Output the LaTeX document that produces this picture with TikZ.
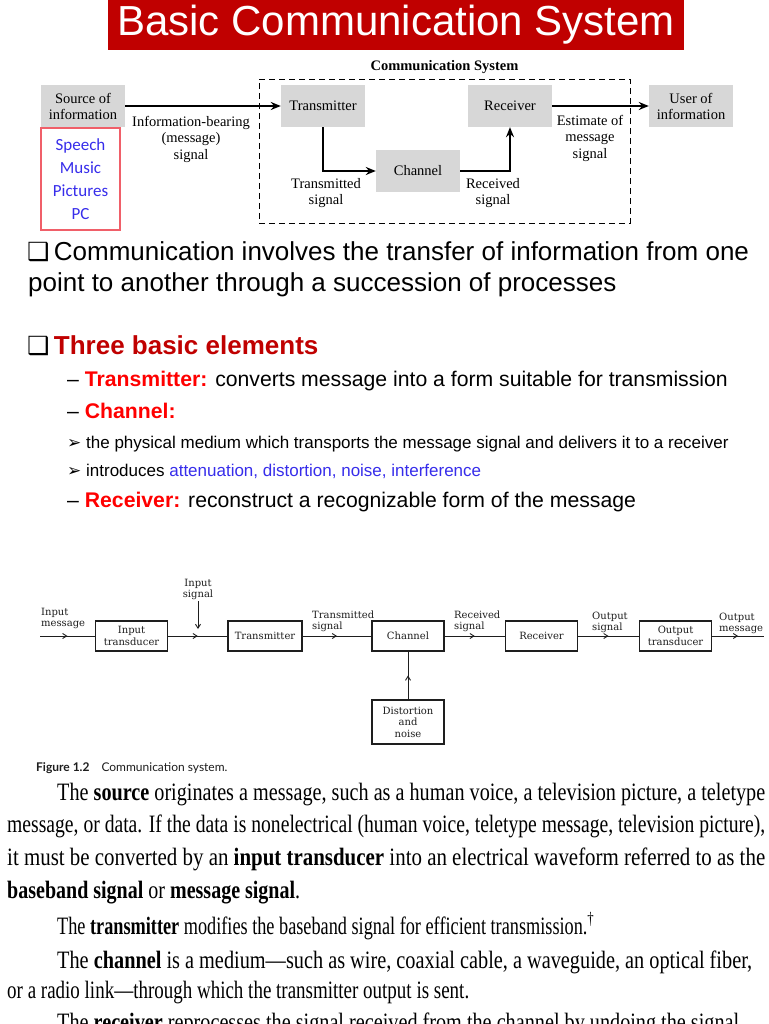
\documentclass[tikz,border=0pt]{standalone}
\usepackage{fontspec}
\setmainfont{Liberation Serif}
\newfontfamily\arialfont{Liberation Sans}
\newfontfamily\carlitofont{Carlito}
\newfontfamily\dejafont{DejaVu Sans}
\newfontfamily\scanfont{DejaVu Serif}
\newfontfamily\latofont{Lato}
\usepackage{xcolor}
\usepackage{graphicx}
\usetikzlibrary{arrows.meta,positioning,calc,decorations.markings}

\definecolor{titlered}{RGB}{192,0,0}
\definecolor{boxgray}{RGB}{215,215,215}
\definecolor{framered}{RGB}{240,95,105}
\definecolor{itemblue}{RGB}{55,45,235}
\definecolor{keyred}{RGB}{255,0,0}
\definecolor{scanink}{RGB}{30,30,30}

% one line of the scanned book page, squeezed to its measured width
\newcommand{\bookline}[2]{\resizebox{#1pt}{\height}{\fontsize{25}{32}\selectfont #2}}
% the hollow square bullet of the slide
\newcommand{\sqbullet}{{\dejafont\fontsize{25}{25}\selectfont\color{black}❑}}

\begin{document}
\begin{tikzpicture}[x=1pt, y=-1pt,
    gbox/.style={fill=boxgray, minimum width=84pt, minimum height=42pt, inner sep=0pt, align=center, font=\fontsize{14.5}{16}\selectfont},
    lbl/.style={align=center, inner sep=0pt, font=\fontsize{14.5}{16.5}\selectfont},
    arr/.style={-{Stealth[length=10pt,width=8pt]}, line width=2.2pt},
    slide/.style={anchor=base west, inner sep=0pt, font=\arialfont\fontsize{26}{31}\selectfont},
    subline/.style={anchor=base west, inner sep=0pt, font=\arialfont\fontsize{21.2}{24}\selectfont},
    subsubline/.style={anchor=base west, inner sep=0pt, font=\arialfont\fontsize{17}{20}\selectfont},
    sbox/.style={draw=scanink, line width=1.3pt, minimum width=72pt, minimum height=30pt, inner sep=0pt, align=center, text=scanink, font=\scanfont\fontsize{10}{11.5}\selectfont},
    slbl/.style={align=left, inner sep=0pt, text=scanink, font=\scanfont\fontsize{10}{11.5}\selectfont},
    midarr/.style={draw=scanink, line width=0.9pt, postaction={decorate}, decoration={markings, mark=at position 0.5 with {\arrow{Straight Barb[length=4pt,width=5pt]}}}},
    book/.style={anchor=base west, inner sep=0pt}
]
\fill[white] (0,0) rectangle (768,1024);
\path[clip] (0,0) rectangle (768,1024);

% title bar
\node[fill=titlered, text=white, minimum width=576pt, minimum height=50pt, inner sep=0pt, font=\arialfont\fontsize{42}{42}\selectfont] (title) at (396,25) {Basic Communication System};

% top block diagram
\node[draw, dash pattern=on 6pt off 4pt, line width=0.9pt, minimum width=371pt, minimum height=144pt, inner sep=0pt] (sysframe) at (444.5,151) {};
\node[above=5pt of sysframe.north, inner sep=0pt, font=\bfseries\fontsize{14.5}{16}\selectfont] (systitle) {Communication System};
\node[gbox] (src) at (83,106) {Source of\\information};
\node[draw=framered, line width=1.2pt, minimum width=79pt, minimum height=102pt, inner sep=0pt, align=center, text=itemblue, font=\carlitofont\fontsize{17}{23}\selectfont] (media) at (80.5,179) {Speech\\Music\\Pictures\\PC};
\node[gbox] (tx) at (323,106) {Transmitter};
\node[gbox] (ch) at (418,171) {Channel};
\node[gbox] (rx) at (510,106) {Receiver};
\node[gbox] (user) at (691,106) {User of\\information};

\draw[arr] (src) -- (tx);
\draw[arr] (tx.south) |- (ch.west);
\draw[arr] (ch.east) -| (rx.south);
\draw[arr] (rx) -- (user);

\node[lbl] (msglbl) at (191,139) {Information-bearing\\(message)\\signal};
\node[lbl] (txlbl) at (326,193) {Transmitted\\signal};
\node[lbl] (rxlbl) at (493,193) {Received\\signal};
\node[lbl] (estlbl) at (590,138) {Estimate of\\message\\signal};

% slide bullets
\node[slide] (intro1) at (27,260) {\sqbullet\,Communication involves the transfer of information from one};
\node[slide] (intro2) at (28,291) {point to another through a succession of processes};
\node[slide, text=titlered] (elems) at (27,354) {\sqbullet\,\bfseries Three basic elements};
\node[subline] (txline) at (67,386) {– {\bfseries\color{keyred}Transmitter:} converts message into a form suitable for transmission};
\node[subline] (chline) at (67,418) {– {\bfseries\color{keyred}Channel:}};
\node[subsubline] (medium) at (67,448) {{\dejafont ➢} the physical medium which transports the message signal and delivers it to a receiver};
\node[subsubline] (impair) at (67,476) {{\dejafont ➢} introduces {\color{itemblue}attenuation, distortion, noise, interference}};
\node[subline] (rxline) at (67,507) {– {\bfseries\color{keyred}Receiver:} reconstruct a recognizable form of the message};

% scanned figure
\node[sbox] (itr) at (131.5,636) {Input\\transducer};
\node[sbox, minimum width=74pt] (trm) at (265,636) {Transmitter};
\node[sbox] (chn) at (408,636) {Channel};
\node[sbox, minimum height=44pt] (dn) at (408,722) {Distortion\\and\\noise};
\node[sbox] (rcv) at (541.5,636) {Receiver};
\node[sbox] (otr) at (675.5,636) {Output\\transducer};
\coordinate (inmsg) at (40,636);
\coordinate (outmsg) at (764,636);
\coordinate (insig) at (198,601);
\coordinate (insigtip) at (198,629);

\draw[midarr] (inmsg) -- (itr);
\draw[midarr] (itr) -- (trm);
\draw[midarr] (trm) -- (chn);
\draw[midarr] (chn) -- (rcv);
\draw[midarr] (rcv) -- (otr);
\draw[midarr] (otr) -- (outmsg);
\draw[midarr] (dn) -- (chn);
\draw[draw=scanink, line width=0.9pt, -{Straight Barb[length=4pt,width=5pt]}] (insig) -- (insigtip);

\node[slbl, anchor=south west] (inmsglbl) at (41,629) {Input\\message};
\node[slbl, align=center, anchor=south] (insiglbl) at (198,600) {Input\\signal};
\node[slbl, anchor=south west] (tslbl) at (312,632) {Transmitted\\signal};
\node[slbl, anchor=south west] (rslbl) at (454,632) {Received\\signal};
\node[slbl, anchor=south west] (oslbl) at (592,633) {Output\\signal};
\node[slbl, anchor=south west] (omlbl) at (719,634) {Output\\message};
\node[anchor=base west, inner sep=0pt, text=scanink, font=\latofont\fontsize{12}{14}\selectfont] (figcap) at (36,771) {\textbf{Figure 1.2}\hspace{12pt}Communication system.};

% book text
\node[book] (bk1) at (57,800) {\bookline{708}{The \textbf{source} originates a message, such as a human voice, a television picture, a teletype}};
\node[book] (bk2) at (7,832) {\bookline{758}{message, or data. If the data is nonelectrical (human voice, teletype message, television picture),}};
\node[book] (bk3) at (7,865) {\bookline{758}{it must be converted by an \textbf{input transducer} into an electrical waveform referred to as the}};
\node[book] (bk4) at (7,898) {\bookline{293}{\textbf{baseband signal} or \textbf{message signal}.}};
\node[book] (bk5) at (57,934) {\bookline{537}{The \textbf{transmitter} modifies the baseband signal for efficient transmission.\textsuperscript{†}}};
\node[book] (bk6) at (57,968) {\bookline{695}{The \textbf{channel} is a medium—such as wire, coaxial cable, a waveguide, an optical fiber,}};
\node[book] (bk7) at (7,998) {\bookline{462}{or a radio link—through which the transmitter output is sent.}};
\node[book] (bk8) at (57,1030) {\bookline{682}{The \textbf{receiver} reprocesses the signal received from the channel by undoing the signal}};
\end{tikzpicture}
\end{document}
